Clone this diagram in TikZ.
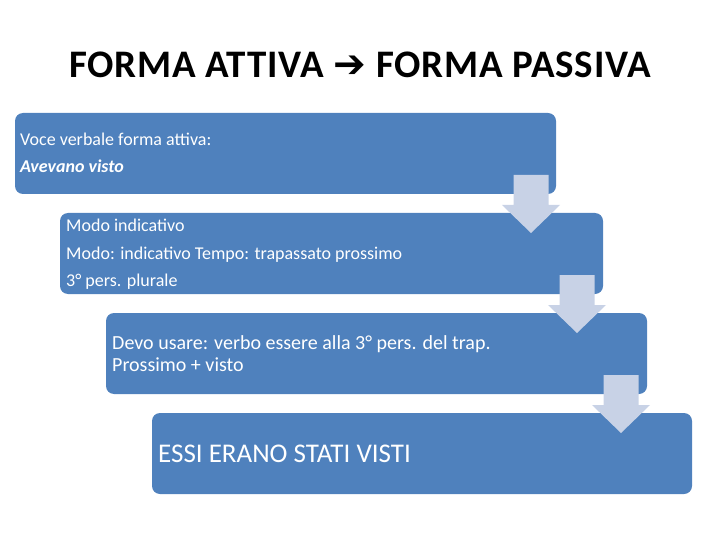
\documentclass[tikz,border=0pt]{standalone}
\usepackage{fontspec}
\setmainfont{Carlito}
\newfontfamily\arrfont{DejaVu Sans}
\definecolor{boxblue}{RGB}{79,129,189}
\definecolor{arrowfill}{RGB}{200,210,230}
\begin{document}
\begin{tikzpicture}[x=1pt,y=-1pt,
  box/.style={fill=boxblue,rounded corners=8pt,draw=none},
  txt/.style={anchor=base west,inner sep=0pt,text=white},
  blockarrow/.style={fill=arrowfill,draw=none}]
\useasboundingbox (0,0) rectangle (720,540);
\node[anchor=base,inner sep=0pt,font=\fontsize{39}{39}\selectfont\bfseries\addfontfeature{LetterSpace=2}] (title) at (360,78)
  {FORMA ATTIVA {\arrfont\bfseries ➔} FORMA PASSIVA};
% boxes
\path[box] (15,113) rectangle (556,194);
\path[box] (60,213) rectangle (603,294);
\path[box] (106,313) rectangle (647,394);
\path[box] (152,413) rectangle (692,494);
% text box 1
\node[txt,font=\fontsize{18}{18}\selectfont] (t1a) at (20,146) {Voce verbale forma attiva:};
\node[txt,font=\fontsize{18}{18}\selectfont\bfseries\itshape] (t1b) at (20,173) {Avevano visto};
% text box 2
\node[txt,font=\fontsize{18}{18}\selectfont] (t2a) at (66,232) {Modo indicativo};
\node[txt,font=\fontsize{18}{18}\selectfont] (t2b) at (66,259) {Modo: indicativo Tempo: trapassato prossimo};
\node[txt,font=\fontsize{18}{18}\selectfont] (t2c) at (66,286) {3° pers. plurale};
% text box 3
\node[txt,font=\fontsize{20}{20}\selectfont] (t3a) at (112,349) {Devo usare: verbo essere alla 3° pers. del trap.};
\node[txt,font=\fontsize{20}{20}\selectfont] (t3b) at (112,371) {Prossimo + visto};
% text box 4
\node[txt,font=\fontsize{27}{27}\selectfont] (t4) at (158,462) {ESSI ERANO STATI VISTI};
% block arrows
\foreach \cx/\ty in {531/175,577/275,621/375}{
  \path[blockarrow] (\cx-17.5,\ty) -- (\cx+17.5,\ty) -- (\cx+17.5,\ty+30) -- (\cx+29,\ty+30)
    -- (\cx,\ty+58) -- (\cx-29,\ty+30) -- (\cx-17.5,\ty+30) -- cycle;
}
\end{tikzpicture}
\end{document}
